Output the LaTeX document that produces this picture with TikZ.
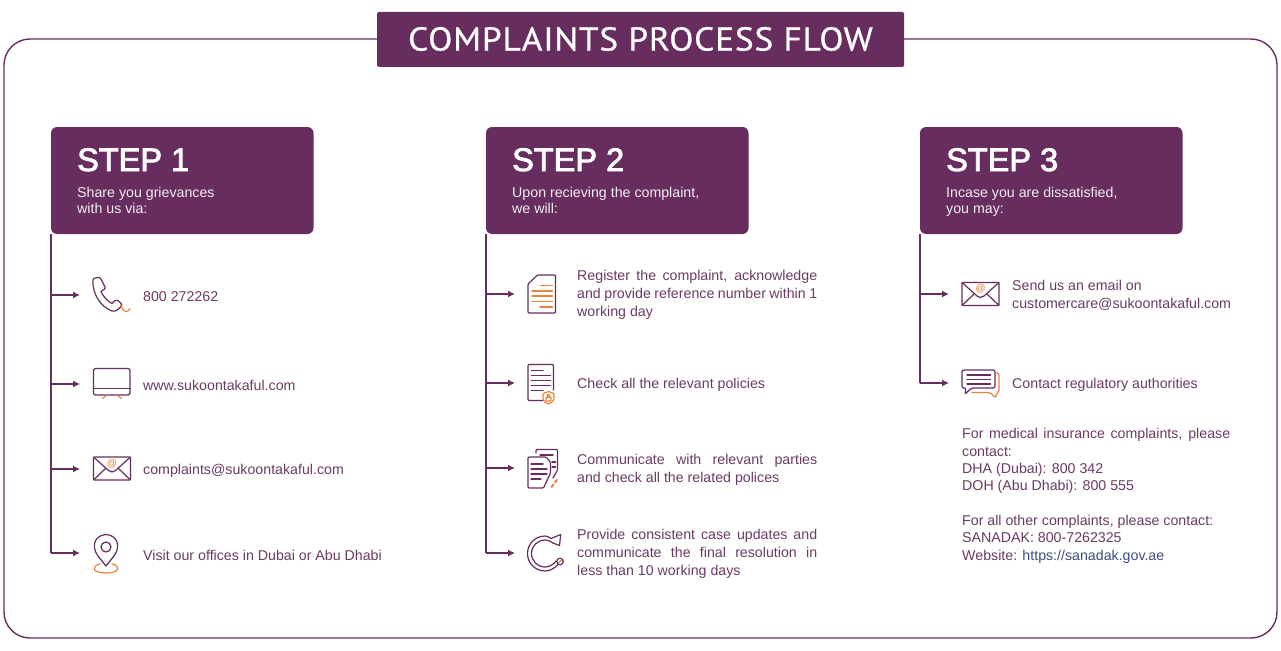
\documentclass[tikz,border=0pt]{standalone}
\usepackage{fontspec}
\setmainfont{Liberation Sans}
\newfontfamily\titlefont[LetterSpace=2.5,FakeStretch=1.07,FakeBold=0.8]{PT Sans}
\newfontfamily\stepfont[FakeBold=2.5]{Liberation Sans}
\usetikzlibrary{arrows.meta,calc}
\definecolor{plum}{HTML}{672D5F}
\definecolor{txtplum}{HTML}{6B3A66}
\definecolor{org}{HTML}{E8833F}
\definecolor{lnk}{HTML}{3F4C80}
\newcommand{\jl}[1]{\makebox[240pt][s]{#1}}
\newcommand{\jk}[1]{\makebox[268pt][s]{#1}}
\tikzset{
  x=1pt,y=-1pt,
  frame/.style={draw=plum,line width=1.4pt,rounded corners=26pt},
  stepbox/.style={fill=plum,rounded corners=6pt,minimum width=262.5pt,minimum height=107pt,anchor=north west,inner sep=0pt,outer sep=0pt},
  steptitle/.style={anchor=base west,inner sep=0pt,text=white,font=\stepfont\fontsize{32.5}{36}\selectfont},
  stepsub/.style={anchor=base west,inner sep=0pt,text=white!92!plum,align=left,font=\fontsize{14.2}{16}\selectfont},
  body/.style={anchor=base west,inner sep=0pt,text=txtplum,align=left,font=\fontsize{14.2}{17.6}\selectfont},
  spine/.style={draw=plum,line width=1.2pt},
  branch/.style={draw=plum,line width=1.2pt,-{Latex[length=7pt,width=7pt]}},
  ic/.style={draw=plum,line width=1.2pt,line join=round,line cap=round},
  oc/.style={draw=org,line width=1.2pt,line join=round,line cap=round},
  envpic/.pic={
    \draw[ic,rounded corners=1pt] (0,0) rectangle (37,23);
    \draw[ic] (0,0) -- (15,13.5) .. controls (17,15.5) and (20,15.5) .. (22,13.5) -- (37,0);
    \draw[ic] (0,23) -- (12,11.5);
    \draw[ic] (37,23) -- (25,11.5);
    \node[text=org,inner sep=0pt,font=\fontsize{10}{10}\bfseries\selectfont] at (18.5,6.5) {@};
  }
}
\begin{document}
\begin{tikzpicture}
\useasboundingbox (0,0) rectangle (1281,650);
\fill[white] (0,0) rectangle (1281,650);
% frame and title
\draw[frame] (4,39) rectangle (1277,638);
\node[fill=plum,rounded corners=1.5pt,minimum width=527pt,minimum height=55pt,inner sep=0pt,outer sep=0pt,anchor=north west] (title) at (377,12) {};
\node[text=white,inner sep=0pt,font=\titlefont\fontsize{33}{36}\selectfont] (titletext) at (640.5,39) {COMPLAINTS PROCESS FLOW};
% step boxes
\node[stepbox] (s1) at (51,127) {};
\node[stepbox] (s2) at (486,127) {};
\node[stepbox] (s3) at (920,127) {};
\node[steptitle] (s1t) at (77,171) {STEP 1};
\node[steptitle] (s2t) at (512,171) {STEP 2};
\node[steptitle] (s3t) at (946,171) {STEP 3};
\node[stepsub] (s1s) at (77,213) {Share you grievances\\with us via:};
\node[stepsub] (s2s) at (512,213) {Upon recieving the complaint,\\we will:};
\node[stepsub] (s3s) at (946,213) {Incase you are dissatisfied,\\you may:};
% connector ends
\coordinate (a11) at (80,295);
\coordinate (a12) at (80,384);
\coordinate (a13) at (80,469);
\coordinate (a14) at (80,553);
\coordinate (a21) at (515,294);
\coordinate (a22) at (515,383);
\coordinate (a23) at (515,468);
\coordinate (a24) at (515,553);
\coordinate (a31) at (949,294);
\coordinate (a32) at (949,383);
\draw[spine] (s1.south west) -- (s1.south west |- a14);
\draw[spine] (s2.south west) -- (s2.south west |- a24);
\draw[spine] (s3.south west) -- (s3.south west |- a32);
\foreach \a in {a11,a12,a13,a14} \draw[branch] (s1.south west |- \a) -- (\a);
\foreach \a in {a21,a22,a23,a24} \draw[branch] (s2.south west |- \a) -- (\a);
\foreach \a in {a31,a32} \draw[branch] (s3.south west |- \a) -- (\a);
% step 1 texts
\node[body] (t11) at (143,301) {800 272262};
\node[body] (t12) at (143,390) {www.sukoontakaful.com};
\node[body] (t13) at (143,474) {complaints@sukoontakaful.com};
\node[body] (t14) at (143,560) {Visit our offices in Dubai or Abu Dhabi};
% step 2 texts
\node[body] (t21) at (577,316) {\jl{Register the complaint, acknowledge}\\\jl{and provide reference number within 1}\\working day};
\node[body] (t22) at (577,388) {Check all the relevant policies};
\node[body] (t23) at (577,482) {\jl{Communicate with relevant parties}\\and check all the related polices};
\node[body] (t24) at (577,575) {\jl{Provide consistent case updates and}\\\jl{communicate the final resolution in}\\less than 10 working days};
% step 3 texts
\node[body] (t31) at (1012,308) {Send us an email on\\customercare@sukoontakaful.com};
\node[body] (t32) at (1012,388) {Contact regulatory authorities};
\node[body,font=\fontsize{14.2}{17.3}\selectfont] (t33) at (962,560) {\jk{For medical insurance complaints, please}\\contact:\\DHA (Dubai): 800 342\\DOH (Abu Dhabi): 800 555\\[17.3pt]For all other complaints, please contact:\\SANADAK: 800-7262325\\Website: \textcolor{lnk}{https://sanadak.gov.ae}};
% phone icon
\draw[ic] (93,280) .. controls (93,278.5) and (94,278) .. (95,278) -- (99,277.5) .. controls (100,277.5) and (100.5,278) .. (101,279) -- (105,287) .. controls (105.5,288) and (105,289) .. (104,289.5) -- (101,291.5)
  .. controls (103,296) and (107,301) .. (112,303.5) -- (115,300.5) .. controls (116,300) and (117,300) .. (118,300.5) -- (121,303.5) .. controls (122,304.5) and (122,305.5) .. (121,306.5) -- (118,309.5) .. controls (116,311) and (114,311.5) .. (112,311)
  .. controls (101,307) and (92,294) .. (93,280) -- cycle;
\draw[oc] (120.5,305) .. controls (122,308) and (124,311.5) .. (126,311.5) .. controls (128,311.5) and (129,310) .. (130,308.5);
% monitor icon
\draw[ic,rounded corners=1.5pt] (93.5,368.5) rectangle (130,395);
\draw[ic] (93.5,388.5) -- (130,388.5);
\draw[oc] (106,395.5) -- (102.5,398.5);
\draw[oc] (118,395.5) -- (121.5,398.5);
% envelope
\pic at (93.5,457) {envpic};
% pin icon
\draw[ic] (106,566) -- (98,556) .. controls (90,545) and (96,535) .. (106,534.5) .. controls (116,535) and (122,545) .. (114,556) -- cycle;
\draw[ic] (106,547) circle[radius=5];
\draw[oc] (100,564) .. controls (91,566) and (92,573) .. (106,573) .. controls (120,573) and (121,566) .. (112,564);
% doc 1
\draw[ic,rounded corners=1pt] (537.5,275) -- (555.5,275) -- (555.5,313) -- (528,313) -- (528,284) -- cycle;
\draw[oc] (540,285.5) -- (552.5,285.5);
\draw[oc] (532,291) -- (552.5,291);
\draw[oc] (532,296) -- (552.5,296);
\draw[oc] (532,301.5) -- (552.5,301.5);
\draw[oc] (540,307) -- (552.5,307);
% doc 2
\draw[ic,rounded corners=1pt] (543,400.5) -- (528,400.5) -- (528,364.5) -- (553.5,364.5) -- (553.5,390);
\draw[ic] (531.5,370.5) -- (543,370.5);
\draw[ic] (531.5,375.5) -- (550.5,375.5);
\draw[ic] (531.5,380.5) -- (550.5,380.5);
\draw[ic] (531.5,385.5) -- (550.5,385.5);
\draw[ic] (531.5,390.5) -- (543,390.5);
\draw[oc,rounded corners=1pt] (548.5,391.5) -- (554,393.5) -- (554,398.5) .. controls (553.5,401) and (551.5,403) .. (548.5,404) .. controls (545.5,403) and (543.5,401) .. (543,398.5) -- (543,393.5) -- cycle;
\draw[oc] (548.5,395.8) circle[radius=1.6];
\draw[oc,rounded corners=0.5pt] (546,397.5) rectangle (551,401);
% doc 3
\draw[ic,rounded corners=1pt] (536,453) -- (536,449.5) -- (557.5,449.5) -- (557.5,470) -- (553,478);
\draw[ic] (540,455) -- (553,455);
\draw[ic] (552,462) -- (555.5,462);
\draw[ic] (552,467) -- (555.5,467);
\draw[ic,rounded corners=1pt] (528,457) -- (546,457) -- (550.5,462) -- (550.5,473) -- (543.5,488) -- (528,488) -- cycle;
\draw[ic] (531,464) -- (543,464);
\draw[ic] (531,469) -- (547,469);
\draw[ic] (531,474) -- (547,474);
\draw[ic] (531,479) -- (541,479);
\draw[oc,line width=2pt] (551.5,487) -- (553.5,484.5);
\draw[oc,line width=2pt] (555,482.5) -- (557,480);
% circular arrow
\draw[ic] (551,538.5) .. controls (549,537) and (547,536) .. (545,536) .. controls (535.3,536) and (527.5,543.8) .. (527.5,553.5) .. controls (527.5,563.2) and (535.3,571) .. (545,571) .. controls (550,571) and (555,568) .. (558,564.5);
\draw[ic] (553,543) .. controls (550.5,541) and (548,540) .. (545,540) .. controls (537.5,540) and (531.5,546) .. (531.5,553.5) .. controls (531.5,561) and (537.5,567) .. (545,567) .. controls (549,567) and (553,565) .. (556,561);
\draw[ic] (551,538.5) -- (560.7,534.5) -- (559.5,545.5) -- (553,543);
\draw[ic] (560,561.5) circle[radius=3.3];
\draw[oc] (558.5,563) -- (561.5,560);
% envelope step 3
\pic at (962,282.5) {envpic};
% chat icon
\draw[ic,rounded corners=2pt] (962,370) -- (995,370) -- (995,388) -- (971,388) -- (965,394.5) -- (966,388) -- (962,388) -- cycle;
\draw[ic] (967,375) -- (990.5,375);
\draw[ic] (967,379.5) -- (990.5,379.5);
\draw[ic] (967,384) -- (990.5,384);
\draw[oc,rounded corners=2pt] (996,373) -- (999,373) -- (999,392.5) -- (996,393) -- (996,398) -- (990,392.5) -- (972,392.5);
\end{tikzpicture}
\end{document}
